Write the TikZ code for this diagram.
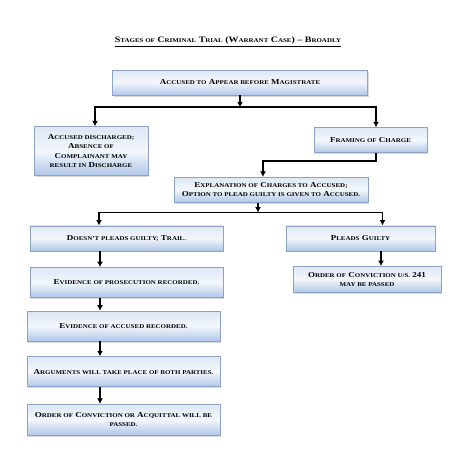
\documentclass[tikz,border=0pt]{standalone}
\usepackage{fontspec}
\setmainfont{Liberation Serif}[FakeStretch=1.2]
\usetikzlibrary{arrows.meta, positioning, shadows}

\definecolor{boxtop}{RGB}{222,231,245}
\definecolor{boxmid}{RGB}{243,247,252}
\definecolor{boxbottom}{RGB}{176,198,232}
\definecolor{boxline}{RGB}{140,162,198}

% small letters of the fake small caps
\newcommand{\sm}[1]{{\fontsize{5.8}{9.5}\selectfont\MakeUppercase{#1}}}

\begin{document}
\begin{tikzpicture}[
    x=1pt, y=1pt,
    stage_box/.style={
            rectangle,
            draw=boxline,
            line width=0.6pt,
            top color=boxtop,
            bottom color=boxbottom,
            middle color=boxmid,
            drop shadow={opacity=0.3, shadow xshift=1pt, shadow yshift=-1.5pt},
            align=center,
            inner sep=1pt,
            font=\bfseries\fontsize{7.5}{9.5}\selectfont
        },
    arrow/.style={-{Latex[length=5.5pt, width=6pt]}, line width=1.8pt},
    ]
    \useasboundingbox (0,0) rectangle (453,-453);

    % --- Title ---
    \node (title) [font=\bfseries\fontsize{8.3}{10}\selectfont] at (228,-42)
        {\underline{S\sm{tages of} C\sm{riminal} T\sm{rial} (W\sm{arrant} C\sm{ase}) – B\sm{roadly}}};

    % --- Top ---
    \node (appear) [stage_box, minimum width=255, minimum height=25] at (240,-82.5)
        {A\sm{ccused to} A\sm{ppear before} M\sm{agistrate}};
    \node (discharged) [stage_box, minimum width=114, minimum height=49, below=31 of appear, xshift=-149]
        {A\sm{ccused discharged;}\\ A\sm{bsence of}\\ C\sm{omplainant may}\\ \sm{result in} D\sm{ischarge}};
    \node (framing) [stage_box, minimum width=113, minimum height=25, below=32 of appear, xshift=130.5]
        {F\sm{raming of} C\sm{harge}};
    \node (explanation) [stage_box, minimum width=194, minimum height=25, below=24 of framing, xshift=-99.5]
        {E\sm{xplanation of} C\sm{harges to} A\sm{ccused;}\\ O\sm{ption to plead guilty is given to} A\sm{ccused.}};

    % --- Trial ---
    \node (not_guilty) [stage_box, minimum width=193, minimum height=25, below=23 of explanation, xshift=-144.5]
        {D\sm{oesn’t pleads guilty;} T\sm{rail.}};
    \node (prosecution) [stage_box, minimum width=193, minimum height=30, below=16 of not_guilty]
        {E\sm{vidence of prosecution recorded.}};
    \node (defence) [stage_box, minimum width=193, minimum height=30, below=13 of prosecution, xshift=-3]
        {E\sm{vidence of accused recorded.}};
    \node (arguments) [stage_box, minimum width=193, minimum height=30, below=15 of defence]
        {A\sm{rguments will take place of both parties.}};
    \node (verdict) [stage_box, minimum width=193, minimum height=31, below=17 of arguments]
        {O\sm{rder of} C\sm{onviction or} A\sm{cquittal will be}\\ \sm{passed.}};

    % --- Guilty ---
    \node (guilty) [stage_box, minimum width=149, minimum height=25, below=23 of explanation, xshift=89.5]
        {P\sm{leads} G\sm{uilty}};
    \node (conviction) [stage_box, minimum width=148, minimum height=26, below=15 of guilty, xshift=6.5]
        {O\sm{rder of} C\sm{onviction u/s.} 241\\ \sm{may be passed}};

    % --- Arrows ---
    \coordinate (split_top) at ([yshift=-12]appear.south);
    \coordinate (split_plea) at ([xshift=-13, yshift=-10]explanation.south);
    \draw[arrow] (appear) -- (split_top);
    \draw[arrow] (split_top) -| ([xshift=4]discharged.north);
    \draw[arrow] (split_top) -| ([xshift=5.5]framing.north);
    \draw[arrow] ([xshift=5.5]framing.south) -- ++(0,-8) -| ([xshift=-8]explanation.north);
    \draw[arrow] ([xshift=-13]explanation.south) -- (split_plea);
    \draw[arrow] (split_plea) -| ([xshift=-27.5]not_guilty.north);
    \draw[arrow] (split_plea) -| ([xshift=22]guilty.north);
    \draw[arrow] ([xshift=-26.5]not_guilty.south) -- ([xshift=-26.5]prosecution.north);
    \draw[arrow] ([xshift=-26.5]prosecution.south) -- ([xshift=-23.5]defence.north);
    \draw[arrow] ([xshift=-23.5]defence.south) -- ([xshift=-23.5]arguments.north);
    \draw[arrow] ([xshift=-23.5]arguments.south) -- ([xshift=-23.5]verdict.north);
    \draw[arrow] ([xshift=20.5]guilty.south) -- ([xshift=14]conviction.north);

\end{tikzpicture}
\end{document}
